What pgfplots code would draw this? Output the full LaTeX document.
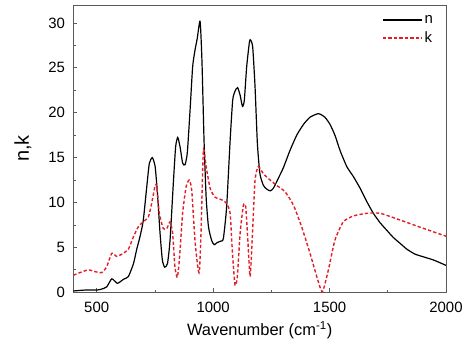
\documentclass[border=0pt]{standalone}
\usepackage{pgfplots}
\pgfplotsset{compat=1.18}
\usepackage{fontspec}
\setmainfont{Liberation Sans}
\definecolor{kred}{RGB}{228,28,40}
\definecolor{frame}{RGB}{90,90,90}
\begin{document}
\begin{tikzpicture}
\begin{axis}[
  at={(0,0)}, anchor=south west,
  scale only axis, width=372.6bp, height=287.3bp,
  xmin=400, xmax=2000, ymin=0, ymax=32,
  xtick={500,1000,1500,2000}, ytick={0,5,10,15,20,25,30},
  minor x tick num=1, minor y tick num=1,
  tick align=inside, xtick pos=bottom, ytick pos=left,
  major tick length=4bp, minor tick length=2.5bp,
  axis line style={frame, line width=0.9bp},
  every tick/.style={frame, line width=0.8bp},
  /pgf/number format/assume math mode=true,
  /pgf/number format/1000 sep={},
  tick label style={font=\fontsize{15}{18}\selectfont},
  xticklabel style={yshift=-6bp},
  yticklabel style={xshift=-5bp},
  xlabel={Wavenumber (cm\textsuperscript{-1})},
  ylabel={n,k},
  xlabel style={font=\fontsize{16.5}{20}\selectfont, yshift=-2bp},
  ylabel style={font=\fontsize{20}{24}\selectfont, yshift=10bp},
  legend style={draw=none, fill=none, at={(rel axis cs:1,1)}, anchor=north east,
    xshift=-8bp, yshift=-6bp, font=\fontsize{15}{18}\selectfont,
    row sep=3bp, legend cell align=left,
    /tikz/every even column/.append style={column sep=1bp}},
  legend image code/.code={\draw[#1] (0bp,0bp) -- (39bp,0bp);},
]
\addplot[black, line width=1.2bp, smooth, tension=0.35] coordinates {
(400,0.15) (450,0.25) (500,0.25) (520,0.35) (543,0.6) (565,1.5) (589,1.0)
(615,1.45) (636,1.75) (658,3.2) (672,4.8) (686,6.2) (700,8.0) (715,11.75)
(726,14.35) (739,15.0) (751,14.0) (761,11.0) (772,6.6) (782,3.6) (792,2.8)
(804,3.2) (815,5.8) (829,12.1) (839,16.2) (848,17.25) (858,16.2) (869,14.4)
(879,14.2) (889,15.5) (901,20.3) (912,25.1) (922,26.95) (932,28.3) (944,30.2)
(952,25.8) (961,16.9) (970,10.6) (980,7.3) (994,5.75) (1005,5.3) (1018,5.55)
(1033,5.7) (1044,6.0) (1058,9.5) (1073,16.9) (1084,21.4) (1094,22.4) (1105,22.8)
(1116,21.95) (1126,20.7) (1134,21.4) (1144,25.1) (1156,27.9) (1161,28.1)
(1170,27.3) (1180,22.9) (1190,16.6) (1201,13.2) (1216,11.9) (1230,11.5)
(1245,11.3) (1259,11.6) (1280,12.7) (1302,13.9) (1330,15.8) (1359,17.5)
(1388,18.7) (1416,19.5) (1452,19.9) (1480,19.5) (1502,18.7) (1523,17.5)
(1545,15.8) (1574,14.0) (1602,12.9) (1631,11.6) (1660,10.1) (1688,8.8)
(1717,7.75) (1746,6.9) (1774,6.1) (1803,5.45) (1832,4.8) (1867,4.25)
(1903,3.95) (1946,3.6) (2000,3.0)
};
\addlegendentry{n}
\addplot[kred, line width=1.4bp, dash pattern=on 3.3bp off 2.2bp, smooth, tension=0.35] coordinates {
(400,1.9) (429,2.2) (464,2.5) (493,2.3) (522,2.2) (543,2.85) (565,4.35)
(586,4.0) (608,4.25) (636,4.8) (658,6.2) (679,7.3) (700,7.85) (722,8.4)
(736,9.9) (751,11.9) (758,11.75) (769,8.8) (786,7.1) (801,7.1) (815,7.85)
(826,6.6) (836,2.85) (846,1.65) (855,3.6) (869,8.8) (884,11.75) (897,12.5)
(908,11.4) (922,5.8) (934,2.85) (941,2.3) (948,6.6) (958,15.8) (970,14.0)
(987,11.6) (1008,10.6) (1037,10.3) (1058,9.9) (1073,8.8) (1083,4.35)
(1094,0.8) (1104,1.75) (1116,6.6) (1130,9.7) (1140,9.5) (1149,5.8)
(1159,1.75) (1169,6.6) (1180,12.5) (1194,14.0) (1216,13.2) (1245,12.5)
(1273,11.9) (1309,11.2) (1345,9.7) (1380,7.3) (1416,4.35) (1445,1.75)
(1469,0.05) (1495,2.5) (1523,5.8) (1559,7.85) (1602,8.5) (1660,8.8)
(1717,8.8) (1803,8.05) (1889,7.25) (2000,6.25)
};
\addlegendentry{k}
\end{axis}
\pgfresetboundingbox
\useasboundingbox (-73.4bp,-56.7bp) rectangle (400.6bp,292.3bp);
\end{tikzpicture}
\end{document}
